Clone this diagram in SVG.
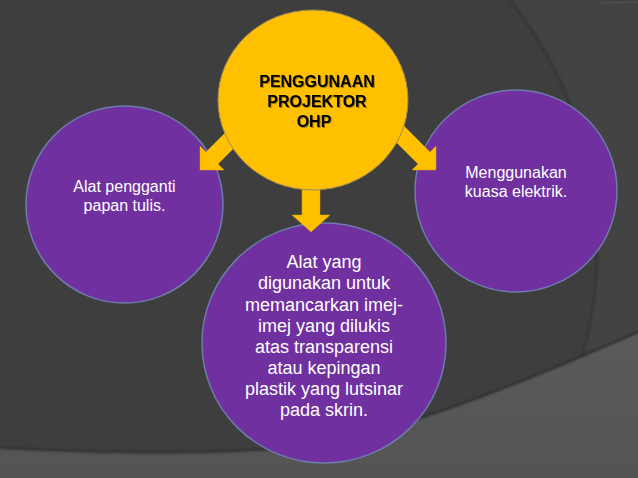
<svg xmlns="http://www.w3.org/2000/svg" width="638" height="478" viewBox="0 0 638 478">
  <defs>
    <linearGradient id="band" x1="0" y1="0" x2="0" y2="1">
      <stop offset="0" stop-color="#5a5a5a"/>
      <stop offset="1" stop-color="#545454"/>
    </linearGradient>
    <filter id="shadow" x="-10%" y="-10%" width="120%" height="130%">
      <feDropShadow dx="1" dy="1" stdDeviation="0.7" flood-color="#000" flood-opacity="0.35"/>
    </filter>
    <filter id="blur" x="-5%" y="-5%" width="110%" height="110%">
      <feGaussianBlur stdDeviation="1.2"/>
    </filter>
  </defs>
  <style>
    .sub { fill: #7030a0; stroke: #6d7cab; stroke-width: 1.5; }
    .main { fill: #ffc000; stroke: #9a8a5a; stroke-width: 1; }
    .arrow { fill: #ffc000; stroke: #d9a400; stroke-width: 0.5; }
    .t { font-family: "Liberation Sans", Arial, sans-serif; fill: #ffffff; text-anchor: middle; }
    .tb { font-family: "Liberation Sans", Arial, sans-serif; font-weight: bold; fill: #000; text-anchor: middle; font-size: 16px; }
  </style>

  <!-- background -->
  <g id="background">
    <rect x="0" y="0" width="638" height="478" fill="#3e3e3e"/>
    <path d="M510,0 A399,399 0 0 1 525,478 L638,478 L638,0 Z" fill="#434343"/>
    <path d="M510,0 A399,399 0 0 1 525,478" fill="none" stroke="#303030" stroke-width="1.5" filter="url(#blur)"/>
    <path d="M0,448 C120,454 250,456 330,442 C420,425 540,375 638,332 L638,478 L0,478 Z" fill="url(#band)"/>
    <path d="M0,448 C120,454 250,456 330,442 C420,425 540,375 638,332" fill="none" stroke="#2e2e2e" stroke-width="2" filter="url(#blur)"/>
    <path d="M600,3 L638,2" fill="none" stroke="#555" stroke-width="1"/>
  </g>

  <!-- sub nodes -->
  <g id="node-left">
    <circle class="sub" cx="124.5" cy="204.5" r="98.5"/>
    <text class="t" font-size="16" x="124.5" y="192">Alat pengganti</text>
    <text class="t" font-size="16" x="124.5" y="211">papan tulis.</text>
  </g>
  <g id="node-right">
    <circle class="sub" cx="516" cy="191" r="101"/>
    <text class="t" font-size="16" x="516" y="178">Menggunakan</text>
    <text class="t" font-size="16" x="516" y="197">kuasa elektrik.</text>
  </g>
  <g id="node-bottom">
    <ellipse class="sub" cx="324" cy="343" rx="122" ry="120"/>
    <text class="t" font-size="18" x="324" y="268">Alat yang</text>
    <text class="t" font-size="18" x="324" y="289">digunakan untuk</text>
    <text class="t" font-size="18" x="324" y="311">memancarkan imej-</text>
    <text class="t" font-size="18" x="324" y="332">imej yang dilukis</text>
    <text class="t" font-size="18" x="324" y="353">atas transparensi</text>
    <text class="t" font-size="18" x="324" y="374">atau kepingan</text>
    <text class="t" font-size="18" x="324" y="395">plastik yang lutsinar</text>
    <text class="t" font-size="18" x="324" y="416">pada skrin.</text>
  </g>

  <!-- connectors -->
  <g id="connectors">
    <polygon class="arrow" points="200,170 200,146 206,152 236,122 248,134 218,164 224,170"/>
    <polygon class="arrow" points="436,170 436,146 430,152 400,122 388,134 418,164 412,170"/>
    <polygon class="arrow" points="302,180 320,180 320,215 330,215 311,232 292,215 302,215"/>
  </g>

  <!-- main node -->
  <g id="node-main">
    <ellipse class="main" cx="313" cy="100" rx="95" ry="90"/>
    <g filter="url(#shadow)">
      <text class="tb" x="317" y="87">PENGGUNAAN</text>
      <text class="tb" x="317" y="107">PROJEKTOR</text>
      <text class="tb" x="314" y="127">OHP</text>
    </g>
  </g>
</svg>
